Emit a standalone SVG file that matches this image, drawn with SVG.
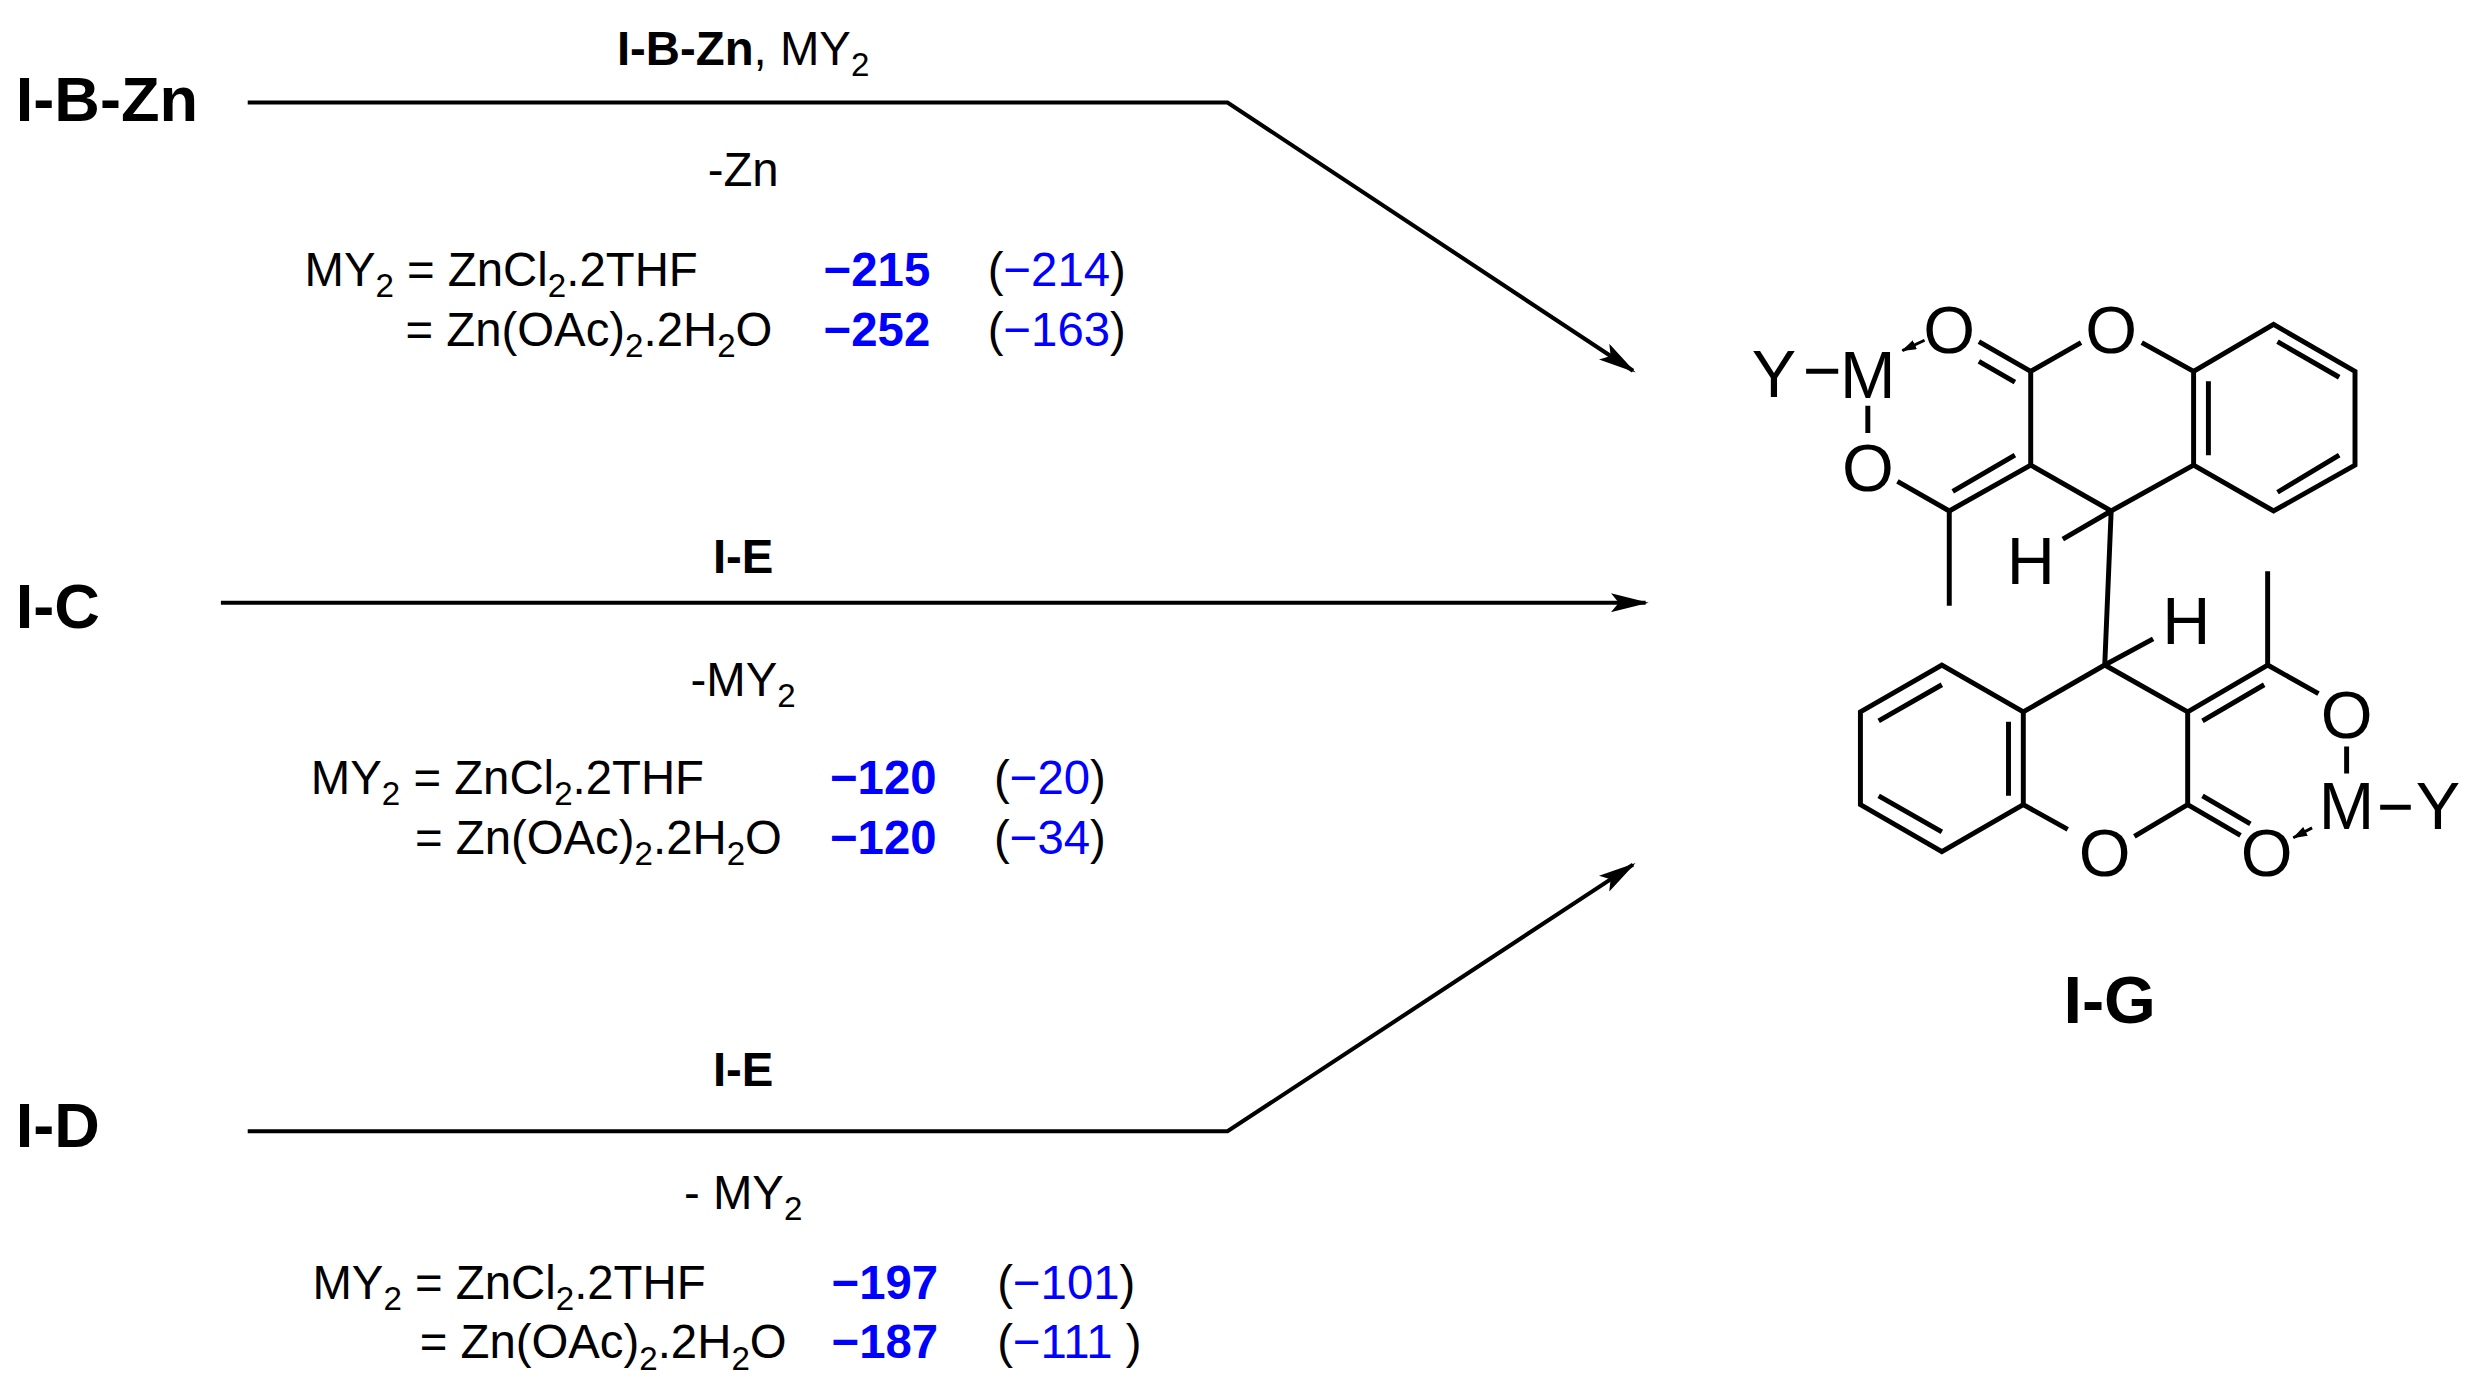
<svg xmlns="http://www.w3.org/2000/svg" width="2474" height="1385" viewBox="0 0 2474 1385">
<defs>
<marker id="ah" viewBox="0 0 24 12" refX="22" refY="6" markerWidth="24" markerHeight="12" markerUnits="userSpaceOnUse" orient="auto"><path d="M0,0 L24,6 L0,12 L5,6 Z" fill="#000"/></marker>
<marker id="dh" viewBox="0 0 30 20" refX="28" refY="10" markerWidth="30" markerHeight="20" markerUnits="userSpaceOnUse" orient="auto"><path d="M0,0 L30,10 L0,20 Z" fill="#000"/></marker>
</defs>
<style>
text{font-family:"Liberation Sans",Arial,sans-serif;fill:#000}
.t{font-size:30px}
.b{font-weight:bold}
.lab{font-size:40px;font-weight:bold}
.blue{fill:#0000ff}
.cn{fill:none;stroke:#000;stroke-width:2.6}
.bd{fill:none;stroke:#000;stroke-width:10;stroke-linecap:butt}
.at{font-size:135px;text-anchor:middle}
</style>
<rect width="2474" height="1385" fill="#fff"/>
<g transform="scale(1.5778)">
<g id="connectors">
<polyline class="cn" points="157,65 778,65 1035,235" marker-end="url(#ah)"/>
<line class="cn" x1="140" y1="382" x2="1043" y2="382" marker-end="url(#ah)"/>
<polyline class="cn" points="157,717 778,717 1035,548" marker-end="url(#ah)"/>
</g>
<g id="node-IBZn"><text class="lab" x="10" y="77">I-B-Zn</text></g>
<g id="node-IC"><text class="lab" x="10" y="398">I-C</text></g>
<g id="node-ID"><text class="lab" x="10" y="727">I-D</text></g>
<g id="label-top">
<text class="t" x="471" y="41" text-anchor="middle"><tspan class="b">I-B-Zn</tspan>, MY<tspan font-size="21" dy="7">2</tspan></text>
<text class="t" x="471" y="118" text-anchor="middle">-Zn</text>
<text class="t" x="193" y="181">MY<tspan font-size="21" dy="7">2</tspan><tspan dy="-7"> = ZnCl</tspan><tspan font-size="21" dy="7">2</tspan><tspan dy="-7">.2THF</tspan></text>
<text class="t b blue" x="522" y="181">−215</text>
<text class="t" x="626" y="181">(<tspan class="blue">−214</tspan>)</text>
<text class="t" x="257" y="219">= Zn(OAc)<tspan font-size="21" dy="7">2</tspan><tspan dy="-7">.2H</tspan><tspan font-size="21" dy="7">2</tspan><tspan dy="-7">O</tspan></text>
<text class="t b blue" x="522" y="219">−252</text>
<text class="t" x="626" y="219">(<tspan class="blue">−163</tspan>)</text>
</g>
<g id="label-mid">
<text class="t b" x="471" y="363" text-anchor="middle">I-E</text>
<text class="t" x="471" y="441" text-anchor="middle">-MY<tspan font-size="21" dy="7">2</tspan></text>
<text class="t" x="197" y="503">MY<tspan font-size="21" dy="7">2</tspan><tspan dy="-7"> = ZnCl</tspan><tspan font-size="21" dy="7">2</tspan><tspan dy="-7">.2THF</tspan></text>
<text class="t b blue" x="526" y="503">−120</text>
<text class="t" x="630" y="503">(<tspan class="blue">−20</tspan>)</text>
<text class="t" x="263" y="541">= Zn(OAc)<tspan font-size="21" dy="7">2</tspan><tspan dy="-7">.2H</tspan><tspan font-size="21" dy="7">2</tspan><tspan dy="-7">O</tspan></text>
<text class="t b blue" x="526" y="541">−120</text>
<text class="t" x="630" y="541">(<tspan class="blue">−34</tspan>)</text>
</g>
<g id="label-bot">
<text class="t b" x="471" y="688" text-anchor="middle">I-E</text>
<text class="t" x="471" y="766" text-anchor="middle">- MY<tspan font-size="21" dy="7">2</tspan></text>
<text class="t" x="198" y="823">MY<tspan font-size="21" dy="7">2</tspan><tspan dy="-7"> = ZnCl</tspan><tspan font-size="21" dy="7">2</tspan><tspan dy="-7">.2THF</tspan></text>
<text class="t b blue" x="527" y="823">−197</text>
<text class="t" x="632" y="823">(<tspan class="blue">−101</tspan>)</text>
<text class="t" x="266" y="861">= Zn(OAc)<tspan font-size="21" dy="7">2</tspan><tspan dy="-7">.2H</tspan><tspan font-size="21" dy="7">2</tspan><tspan dy="-7">O</tspan></text>
<text class="t b blue" x="527" y="861">−187</text>
<text class="t" x="632" y="861">(<tspan class="blue">−111 </tspan>)</text>
</g>
</g>
<g id="node-IG" transform="translate(1700,280) scale(0.4936)">
<g class="bd">
<path d="M670,185 L670,375 L833,468 L1000,375 L1000,185 M670,185 L772,127 M895,127 L1000,185"/>
<path d="M1000,185 L1162,90 L1327,185 L1327,375 L1162,468 L1000,375 M1030,205 L1030,355 M1170,125 L1295,197 M1295,355 L1170,430"/>
<path d="M670,185 L565,125 M638,207 L565,165"/>
<path d="M670,375 L505,468 M638,355 L512,428"/>
<path d="M505,468 L400,408 M505,468 L505,660 M340,255 L340,310 M215,185 L280,185"/>
<path d="M833,468 L735,525 M833,468 L820,780"/>
<path d="M820,780 L918,727 M820,780 L655,875 M820,780 L988,875"/>
<path d="M655,875 L490,780 L325,875 L325,1063 L490,1158 L655,1063 Z M625,895 L625,1045 M362,893 L490,820 M362,1045 L490,1118"/>
<path d="M655,1063 L745,1113 M880,1127 L988,1063 L988,875 L1150,780 M1018,893 L1143,820 M1150,780 L1150,590 M1150,780 L1253,838 M1310,945 L1310,1000 M1378,1068 L1440,1068"/>
<path d="M988,1063 L1095,1125 M1018,1045 L1115,1102"/>
</g>
<line x1="455" y1="122" x2="410" y2="143" stroke="#000" stroke-width="6" marker-end="url(#dh)"/>
<line x1="1240" y1="1110" x2="1202" y2="1130" stroke="#000" stroke-width="6" marker-end="url(#dh)"/>
<text class="at" x="505" y="148">O</text>
<text class="at" x="833" y="148">O</text>
<text class="at" x="340" y="428">O</text>
<text class="at" x="340" y="240">M</text>
<text class="at" x="150" y="237">Y</text>
<text class="at" x="670" y="615">H</text>
<text class="at" x="985" y="738">H</text>
<text class="at" x="1310" y="928">O</text>
<text class="at" x="1310" y="1113">M</text>
<text class="at" x="1495" y="1113">Y</text>
<text class="at" x="820" y="1208">O</text>
<text class="at" x="1148" y="1208">O</text>
<text class="at" font-weight="bold" x="830" y="1505">I-G</text>
</g>
</svg>
